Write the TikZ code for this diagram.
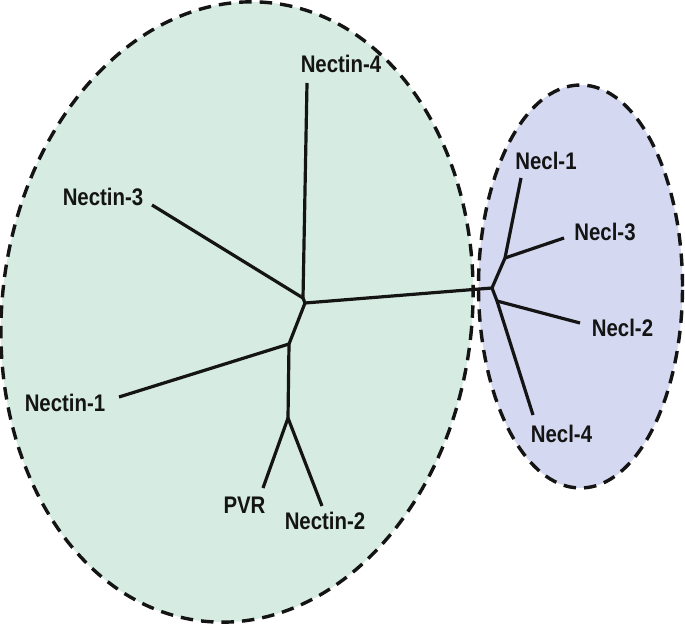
\documentclass[tikz,border=0pt]{standalone}
\usepackage{fontspec}
\setmainfont{Liberation Sans}
\definecolor{grpgreen}{RGB}{214,235,226}
\definecolor{grpblue}{RGB}{212,216,240}
\definecolor{inkc}{RGB}{20,20,20}
\newcommand{\lbltxt}[1]{\scalebox{0.85}[1]{#1}}
\begin{document}
\begin{tikzpicture}[x=1pt,y=1pt,
  group/.style={draw=inkc,line width=3.4pt,dash pattern=on 12.5pt off 8pt},
  branch/.style={draw=inkc,line width=3.2pt,line join=round},
  lbl/.style={font=\fontsize{24}{26}\selectfont\bfseries,text=inkc,inner sep=0pt,anchor=center}]
\useasboundingbox (0,0) rectangle (685,625);
% groups
\path[group,fill=grpgreen,rotate around={-6.4:(237,313)}] (237,313) ellipse [x radius=235,y radius=311];
\path[group,fill=grpblue] (580.5,338.5) ellipse [x radius=102,y radius=201.5];
% junctions
\coordinate (A1) at (303,327);
\coordinate (A2) at (305,322);
\coordinate (C) at (289,281);
\coordinate (D) at (288,207);
\coordinate (B) at (492,337);
\coordinate (E) at (505,367);
\coordinate (F) at (497,324);
% leaf ends
\coordinate (n4) at (307,542);
\coordinate (n3) at (152,420);
\coordinate (n1) at (119,228);
\coordinate (pvr) at (263,137);
\coordinate (n2) at (322,119);
\coordinate (l1) at (521,447);
\coordinate (l3) at (564,387);
\coordinate (l2) at (580,302);
\coordinate (l4) at (533,210);
% branches
\draw[branch] (n4) -- (A1);
\draw[branch] (n3) -- (A1);
\draw[branch] (A1) -- (A2);
\draw[branch] (A2) -- (B);
\draw[branch] (A2) -- (C);
\draw[branch] (C) -- (n1);
\draw[branch] (C) -- (D);
\draw[branch] (D) -- (pvr);
\draw[branch] (D) -- (n2);
\draw[branch] (B) -- (E);
\draw[branch] (E) -- (l1);
\draw[branch] (E) -- (l3);
\draw[branch] (B) -- (F);
\draw[branch] (F) -- (l2);
\draw[branch] (F) -- (l4);
% labels
\node[lbl] (t4) at (341,561) {\lbltxt{Nectin-4}};
\node[lbl] (t3) at (103,428) {\lbltxt{Nectin-3}};
\node[lbl] (t1) at (65,222) {\lbltxt{Nectin-1}};
\node[lbl] (tp) at (244.5,120) {\lbltxt{PVR}};
\node[lbl] (t2) at (325,104) {\lbltxt{Nectin-2}};
\node[lbl] (s1) at (546,464) {\lbltxt{Necl-1}};
\node[lbl] (s3) at (605,393) {\lbltxt{Necl-3}};
\node[lbl] (s2) at (622.5,297) {\lbltxt{Necl-2}};
\node[lbl] (s4) at (561.5,191) {\lbltxt{Necl-4}};
\end{tikzpicture}
\end{document}
